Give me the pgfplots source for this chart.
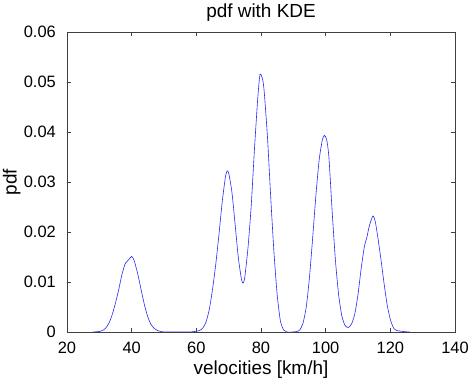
\documentclass[border=0pt]{standalone}
\usepackage{pgfplots}
\pgfplotsset{compat=1.18}
\usepackage{fontspec}
\setmainfont{Liberation Sans}
\begin{document}
\begin{tikzpicture}[font=\fontsize{16.5}{19}\selectfont]
\begin{axis}[
  name=ax,
  scale only axis,
  width=388bp, height=300bp,
  xmin=20, xmax=140, ymin=0, ymax=0.06,
  xtick={20,40,...,140},
  ytick={0,0.01,...,0.06},
  yticklabels={0,0.01,0.02,0.03,0.04,0.05,0.06},
  scaled y ticks=false,
  /pgf/number format/assume math mode=true,
  tick align=inside,
  major tick length=4bp,
  axis line style={black!75, line width=0.5pt},
  tick style={black!75, line width=0.5pt},
  title={pdf with KDE},
  xlabel={velocities [km/h]},
  ylabel={pdf},
  every tick label/.append style={font=\fontsize{16.5}{19}\selectfont},
  label style={font=\fontsize{19}{22}\selectfont},
  title style={font=\fontsize{19}{22}\selectfont, at={(axis description cs:0.5,1.03)}, anchor=base},
  xlabel style={at={(axis description cs:0.5,-0.143)}, anchor=base},
  ylabel style={at={(axis description cs:-0.13,0.5)}, anchor=base},
  xticklabel style={anchor=base, yshift=-22bp},
  yticklabel style={anchor=east, inner sep=0pt, xshift=-11bp},
  every axis plot/.append style={line width=0.6pt},
]
\addplot[color={rgb,255:red,40;green,40;blue,245}, smooth, tension=0.4] table {
x y
28 0
30 0.0001
31 0.0003
32 0.0008
33 0.0018
34 0.0035
35 0.0058
36 0.0085
37 0.0115
38 0.0137
38.7 0.0142
39.5 0.0148
40 0.0151
40.5 0.0147
41 0.0138
42 0.0113
43 0.0082
44 0.0053
45 0.0030
46 0.0015
47 0.0007
48 0.0003
49 0.0001
50 0
52 0
54 0
56 0
58 0
59.5 0.0001
61 0.0003
62 0.0008
63 0.0020
64 0.0045
65 0.0085
66 0.0135
67 0.0195
68 0.0260
69 0.0310
69.5 0.0322
70 0.0318
71 0.0280
72 0.0215
73 0.0148
74 0.0104
74.5 0.0098
75 0.0110
76 0.0170
77 0.0255
78 0.0368
79 0.0468
79.7 0.0515
80.5 0.0505
81 0.0480
82 0.0390
83 0.0270
84 0.0160
85 0.0075
86 0.0022
87 0.0004
88 0
90 0
91 0.0001
92 0.0004
93 0.0018
94 0.0050
95 0.0110
96 0.0190
97 0.0275
98 0.0345
99 0.0385
99.6 0.0393
100.3 0.0385
101 0.0350
102 0.0242
103 0.0145
104 0.0075
105 0.0032
106 0.0013
107 0.0009
108 0.0016
109 0.0036
110 0.0075
111 0.0128
112 0.0172
112.7 0.0188
113.5 0.0212
114.6 0.0232
115.3 0.0222
116 0.0195
117 0.0150
118 0.0100
119 0.0055
120 0.0025
121 0.0008
122 0.0003
124 0.0001
126 0
};
\end{axis}
\pgfresetboundingbox
\path[use as bounding box] ([shift={(-67bp,-50bp)}]ax.south west) rectangle ([shift={(19bp,32bp)}]ax.north east);
\end{tikzpicture}
\end{document}
